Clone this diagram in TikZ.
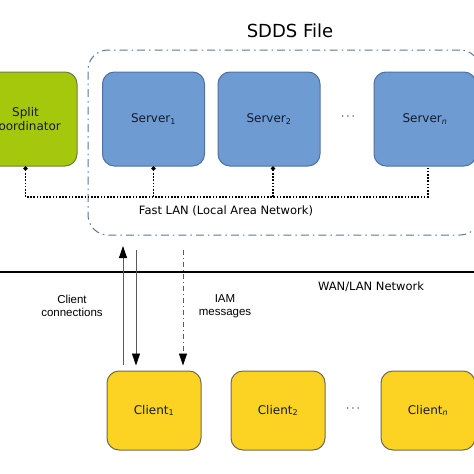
\documentclass[tikz,border=0pt]{standalone}
\usepackage{fontspec}
\setmainfont{DejaVu Sans}
\newfontfamily\helv{Liberation Sans}
\usetikzlibrary{arrows.meta,positioning}
\definecolor{sdGreen}{HTML}{a6c80c}
\definecolor{sdGreenLine}{HTML}{6e7d45}
\definecolor{sdBlue}{HTML}{6e9bd1}
\definecolor{sdBlueLine}{HTML}{4d72a1}
\definecolor{sdYellow}{HTML}{fcd323}
\definecolor{sdYellowLine}{HTML}{6c6a58}
\definecolor{sdFrame}{HTML}{5b7895}
\definecolor{sdText}{HTML}{141a2c}
\tikzset{
  >={Triangle[length=12pt,width=8pt,color=black]},
  coord/.style={rounded corners=12pt, draw=sdGreenLine, fill=sdGreen, line width=1pt,
              minimum width=103pt, minimum height=94pt, align=center,
              font=\fontsize{12}{14.5}\selectfont, text=sdText},
  srv/.style={rounded corners=12pt, draw=sdBlueLine, fill=sdBlue, line width=1pt,
              minimum width=102pt, minimum height=94pt,
              font=\fontsize{12}{14}\selectfont, text=sdText},
  cli/.style={rounded corners=12pt, draw=sdYellowLine, fill=sdYellow, line width=1pt,
              minimum width=94pt, minimum height=79pt,
              font=\fontsize{12}{14}\selectfont, text=sdText},
  frame/.style={rounded corners=20pt, draw=sdFrame, line width=1pt,
              dash pattern=on 8pt off 4pt on 1.5pt off 4pt,
              minimum width=392pt, minimum height=185pt},
  lbl/.style={font=\fontsize{11.5}{14}\selectfont},
  hlbl/.style={font=\helv\fontsize{11.5}{13.5}\selectfont, align=center},
  dots/.style={font=\fontsize{12}{14}\selectfont},
  lan/.style={line width=1.6pt, dash pattern=on 1.6pt off 1.6pt, {Circle[length=4pt]}-},
  conn/.style={->, draw=black!65, line width=0.8pt},
  iam/.style={->, draw=black!65, line width=0.8pt, dash pattern=on 5pt off 3pt on 1pt off 3pt},
}
\begin{document}
\begin{tikzpicture}[x=1pt,y=-1pt]
  \useasboundingbox (0,0) rectangle (474,474);
  \node[frame] (sdds) at (284,142.5){};
  \node[font=\fontsize{18}{20}\selectfont] (title) at (290,31){SDDS File};
  \node[coord] (split) at (25.5,119){Split\\Coordinator};
  \node[srv] (srv1) at (153.5,119){Server\textsubscript{1}};
  \node[srv] (srv2) at (269,119){Server\textsubscript{2}};
  \node[dots] (sdots) at (348,117){$\cdots$};
  \node[srv] (srvn) at (425,119){Server\textsubscript{\itshape n}};
  \coordinate (busL) at (25.5,197);
  \coordinate (busR) at (428,197);
  \draw[lan] (split.south) -- (busL) -- (busR) -- ([xshift=3pt]srvn.south);
  \draw[lan] (srv1.south) -- (srv1.south |- busL);
  \draw[lan] ([xshift=4pt]srv2.south) -- ([xshift=4pt]srv2.south |- busL);
  \node[lbl] (fastlan) at (226,211){Fast LAN (Local Area Network)};
  \coordinate (wanL) at (0,272);
  \coordinate (wanR) at (474,272);
  \draw[line width=2.6pt] (wanL) -- (wanR);
  \node[lbl] (wan) at (371,287){WAN/LAN Network};
  \node[cli] (cl1) at (154,410.5){Client\textsubscript{1}};
  \node[cli] (cl2) at (278,410.5){Client\textsubscript{2}};
  \node[dots] (cdots) at (353,409){$\cdots$};
  \node[cli] (cln) at (428,410.5){Client\textsubscript{\itshape n}};
  \coordinate (upTop) at (123,246);
  \coordinate (downTop) at (136,250);
  \coordinate (iamTop) at (183,250);
  \draw[conn] ([xshift=-31pt,yshift=6pt]cl1.north) -- (upTop);
  \draw[conn] (downTop) -- ([xshift=-18pt,yshift=5pt]cl1.north);
  \draw[iam] (iamTop) -- ([xshift=29pt,yshift=5pt]cl1.north);
  \node[hlbl] (cconn) at (72,306){Client\\connections};
  \node[hlbl] (iammsg) at (225,306){IAM\\messages};
\end{tikzpicture}
\end{document}
